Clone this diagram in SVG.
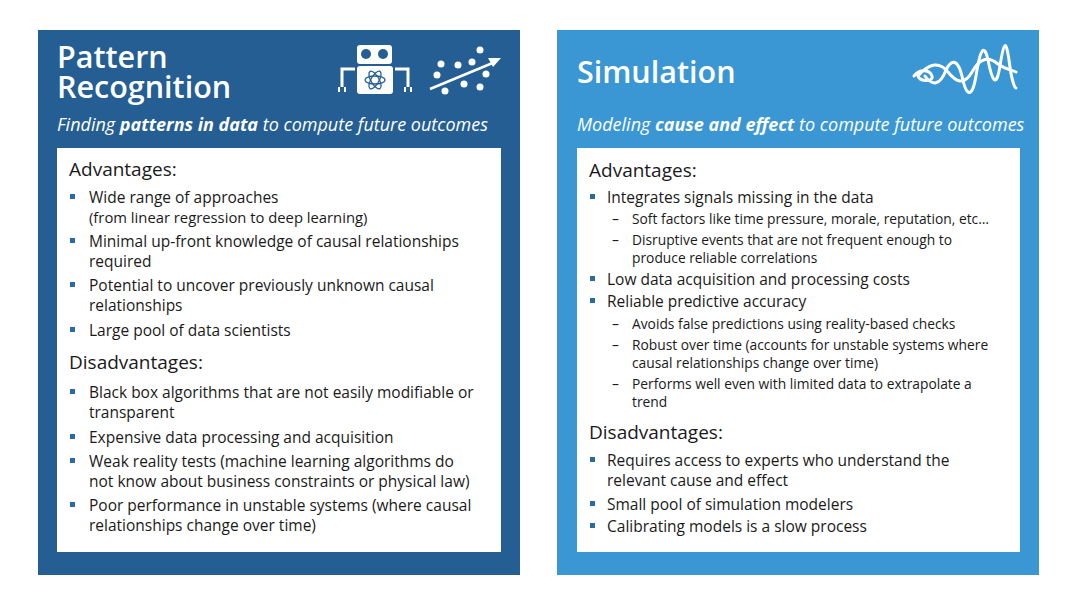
<svg xmlns="http://www.w3.org/2000/svg" width="1080" height="599" viewBox="0 0 1080 599">
<style>
text{font-family:"Open Sans","Noto Sans",sans-serif;}
.t{fill:#fff;font-size:30.5px;font-weight:600}
.s{fill:#fff;font-size:18px;font-style:italic}
.h{fill:#1a1a1a;font-size:19px}
.b{fill:#1a1a1a;font-size:15.5px}
.c{fill:#1a1a1a;font-size:13.8px}
.cl{fill:#1a1a1a;font-size:14.8px}
.sq{fill:#2a6aa8}
.w{fill:none;stroke:#fff;stroke-width:3;stroke-linecap:round}
</style>
<rect width="1080" height="599" fill="#fff"/>
<g id="pattern">
<rect x="38" y="30" width="482" height="545" fill="#245e93"/>
<text class="t" x="57" y="68">Pattern</text>
<text class="t" x="57" y="98">Recognition</text>
<text class="s" x="57" y="131">Finding <tspan font-weight="700">patterns in data</tspan> to compute future outcomes</text>
<rect x="57" y="148" width="444" height="404" fill="#fff"/>
<g id="robot" fill="#fff">
<rect x="357" y="45" width="35" height="19" rx="3"/>
<circle cx="366" cy="54" r="5" fill="#245e93"/><circle cx="383" cy="54" r="5" fill="#245e93"/>
<rect x="357" y="66" width="36" height="28" rx="3"/>
<path d="M355 69h-13v18M395 69h13v18" fill="none" stroke="#fff" stroke-width="3"/>
<path d="M339 87v5M345 87v5M405 87v5M411 87v5" stroke="#fff" stroke-width="2"/>
<g fill="none" stroke="#245e93" stroke-width="1.3"><ellipse cx="375" cy="80" rx="10" ry="4"/><ellipse cx="375" cy="80" rx="10" ry="4" transform="rotate(60 375 80)"/><ellipse cx="375" cy="80" rx="10" ry="4" transform="rotate(-60 375 80)"/></g>
</g>
<g id="scatter" fill="#fff">
<circle cx="441" cy="64" r="3.5"/><circle cx="458" cy="65" r="3.5"/><circle cx="472" cy="62" r="3.5"/><circle cx="480" cy="50" r="3.5"/>
<circle cx="437" cy="75" r="3.5"/><circle cx="486" cy="74" r="3.5"/><circle cx="445" cy="91" r="3.5"/><circle cx="464" cy="84" r="3.5"/><circle cx="480" cy="87" r="3.5"/>
<path d="M430 89L495 62" stroke="#fff" stroke-width="2.5"/><path d="M501 58l-13 0l5 9z"/>
</g>
<text class="h" x="69" y="176">Advantages:</text>
<g class="b">
<rect class="sq" x="70" y="194" width="5" height="5"/><text x="89" y="203">Wide range of approaches</text>
<text class="cl" x="89" y="223">(from linear regression to deep learning)</text>
<rect class="sq" x="70" y="238" width="5" height="5"/><text x="89" y="247">Minimal up-front knowledge of causal relationships</text>
<text x="89" y="267">required</text>
<rect class="sq" x="70" y="282" width="5" height="5"/><text x="89" y="291">Potential to uncover previously unknown causal</text>
<text x="89" y="311">relationships</text>
<rect class="sq" x="70" y="327" width="5" height="5"/><text x="89" y="336">Large pool of data scientists</text>
</g>
<text class="h" x="69" y="369">Disadvantages:</text>
<g class="b">
<rect class="sq" x="70" y="389" width="5" height="5"/><text x="89" y="398">Black box algorithms that are not easily modifiable or</text>
<text x="89" y="418">transparent</text>
<rect class="sq" x="70" y="434" width="5" height="5"/><text x="89" y="443">Expensive data processing and acquisition</text>
<rect class="sq" x="70" y="458" width="5" height="5"/><text x="89" y="467">Weak reality tests (machine learning algorithms do</text>
<text x="89" y="487">not know about business constraints or physical law)</text>
<rect class="sq" x="70" y="502" width="5" height="5"/><text x="89" y="511">Poor performance in unstable systems (where causal</text>
<text x="89" y="531">relationships change over time)</text>
</g>
</g>
<g id="simulation">
<rect x="557" y="30" width="482" height="545" fill="#3a97d4"/>
<text class="t" x="577" y="83">Simulation</text>
<text class="s" x="577" y="131">Modeling <tspan font-weight="700">cause and effect</tspan> to compute future outcomes</text>
<rect x="577" y="148" width="443" height="404" fill="#fff"/>
<g id="wave">
<path class="w" d="M914 76C920 68 930 70 932 76C934 82 920 82 918 76C930 62 940 62 948 72C956 82 964 86 972 72C980 58 988 56 998 64C1006 70 1012 70 1016 72"/>
<path class="w" d="M925 76C932 86 940 86 946 70C952 58 958 60 962 76C966 96 972 100 976 76C980 50 984 42 988 60C992 80 996 90 1000 66C1004 40 1006 40 1009 60C1011 76 1014 88 1016 88"/>
</g>
<text class="h" x="589" y="177">Advantages:</text>
<g class="b">
<rect class="sq" x="590" y="194" width="5" height="5"/><text x="607" y="203">Integrates signals missing in the data</text>
<text class="c" x="612" y="224">–</text><text class="c" x="632" y="224">Soft factors like time pressure, morale, reputation, etc…</text>
<text class="c" x="612" y="245">–</text><text class="c" x="632" y="245">Disruptive events that are not frequent enough to</text>
<text class="c" x="632" y="263">produce reliable correlations</text>
<rect class="sq" x="590" y="276" width="5" height="5"/><text x="607" y="285">Low data acquisition and processing costs</text>
<rect class="sq" x="590" y="298" width="5" height="5"/><text x="607" y="307">Reliable predictive accuracy</text>
<text class="c" x="612" y="329">–</text><text class="c" x="632" y="329">Avoids false predictions using reality-based checks</text>
<text class="c" x="612" y="350">–</text><text class="c" x="632" y="350">Robust over time (accounts for unstable systems where</text>
<text class="c" x="632" y="368">causal relationships change over time)</text>
<text class="c" x="612" y="389">–</text><text class="c" x="632" y="389">Performs well even with limited data to extrapolate a</text>
<text class="c" x="632" y="407">trend</text>
</g>
<text class="h" x="589" y="439">Disadvantages:</text>
<g class="b">
<rect class="sq" x="590" y="457" width="5" height="5"/><text x="607" y="466">Requires access to experts who understand the</text>
<text x="607" y="486">relevant cause and effect</text>
<rect class="sq" x="590" y="501" width="5" height="5"/><text x="607" y="510">Small pool of simulation modelers</text>
<rect class="sq" x="590" y="523" width="5" height="5"/><text x="607" y="532">Calibrating models is a slow process</text>
</g>
</g>
</svg>
